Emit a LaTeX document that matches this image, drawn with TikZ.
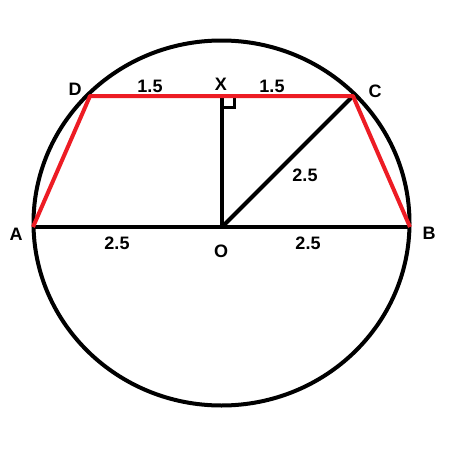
\documentclass[tikz,border=0pt]{standalone}
\usepackage{fontspec}
\setmainfont{Liberation Sans}
\definecolor{pred}{RGB}{237,28,36}
\begin{document}
\begin{tikzpicture}[x=1pt,y=-1pt,
  blk/.style={line width=4pt,black},
  redl/.style={line width=4pt,pred,line join=round},
  lbl/.style={font=\fontsize{18}{18}\selectfont\bfseries,inner sep=0pt}]
\useasboundingbox[fill=white] (0,0) rectangle (450,450);
\coordinate (A) at (33,227);
\coordinate (B) at (410,227);
\coordinate (O) at (222,227);
\coordinate (D) at (90,96);
\coordinate (C) at (353,96);
\coordinate (X) at (222,96);
\draw[line width=4pt] (221.5,223) ellipse [x radius=188, y radius=182.5];
\draw[blk] (A) -- (B);
\draw[blk] (O) -- (X);
\draw[blk] (O) -- (C);
\draw[line width=3pt] (224,107) -- (234,107) -- (234,97);
\draw[redl] (A) -- (D) -- (C) -- (B);
\node[lbl] (lD) at (75,89) {D};
\node[lbl] (lX) at (221,84) {X};
\node[lbl] (lC) at (375,91) {C};
\node[lbl] (lA) at (16,234) {A};
\node[lbl] (lB) at (429,233) {B};
\node[lbl] (lO) at (221,251) {O};
\node[lbl] (l1) at (150,86) {1.5};
\node[lbl] (l2) at (272,86) {1.5};
\node[lbl] (l3) at (305,175) {2.5};
\node[lbl] (l4) at (117,243) {2.5};
\node[lbl] (l5) at (308,243) {2.5};
\end{tikzpicture}
\end{document}
